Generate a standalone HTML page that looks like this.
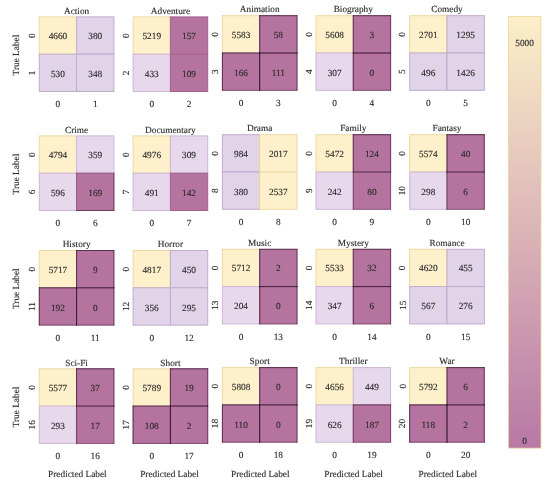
<!DOCTYPE html>
<html lang="en">
<head>
<meta charset="utf-8">
<title>Confusion matrices per genre</title>
<style>
html,body{margin:0;padding:0;background:#ffffff;}
body{width:550px;height:484px;overflow:hidden;}
svg{display:block;}
#labels{filter:blur(0.3px);}
svg text{font-family:"Liberation Serif","DejaVu Serif",serif;font-size:9.3px;fill:#2b2b2b;text-rendering:geometricPrecision;stroke:#2b2b2b;stroke-width:0.14px;}
</style>
</head>
<body>
<svg width="550" height="484" viewBox="0 0 550 484">
<defs>
<linearGradient id="cb" x1="0" y1="0" x2="0" y2="1">
<stop offset="0" stop-color="#FCEFC8"/>
<stop offset="1" stop-color="#B878A6"/>
</linearGradient>
</defs>
<rect x="0" y="0" width="550" height="484" fill="#ffffff"/>
<g id="cells">
<rect x="39.30" y="16.90" width="37.30" height="37.30" fill="#FDF0CB" stroke="#EBD9A3" stroke-width="1.0"/>
<rect x="76.60" y="16.90" width="37.30" height="37.30" fill="#E1D4E9" stroke="#C0AACD" stroke-width="1.0"/>
<rect x="39.30" y="54.20" width="37.30" height="37.30" fill="#E1D4E9" stroke="#C0AACD" stroke-width="1.0"/>
<rect x="76.60" y="54.20" width="37.30" height="37.30" fill="#E1D4E9" stroke="#C0AACD" stroke-width="1.0"/>
<rect x="133.10" y="16.90" width="37.30" height="37.30" fill="#FDF0CB" stroke="#EBD9A3" stroke-width="1.0"/>
<rect x="170.40" y="16.90" width="37.30" height="37.30" fill="#B5739F" stroke="#A5628F" stroke-width="1.0"/>
<rect x="133.10" y="54.20" width="37.30" height="37.30" fill="#E7D8EC" stroke="#CDB6D6" stroke-width="1.0"/>
<rect x="170.40" y="54.20" width="37.30" height="37.30" fill="#B5739F" stroke="#A5628F" stroke-width="1.0"/>
<rect x="222.40" y="15.70" width="37.30" height="37.30" fill="#FDF0CB" stroke="#EBD9A3" stroke-width="1.0"/>
<rect x="259.70" y="15.70" width="37.30" height="37.30" fill="#B5739F" stroke="#A5628F" stroke-width="1.0"/>
<rect x="222.40" y="53.00" width="37.30" height="37.30" fill="#B5739F" stroke="#A5628F" stroke-width="1.0"/>
<rect x="259.70" y="53.00" width="37.30" height="37.30" fill="#B5739F" stroke="#A5628F" stroke-width="1.0"/>
<g stroke="#160416" stroke-width="0.75" fill="none"><line x1="259.33" y1="15.70" x2="297.37" y2="15.70" stroke-opacity="0.72"/><line x1="259.70" y1="15.33" x2="259.70" y2="53.37" stroke-opacity="0.72"/><line x1="297.00" y1="15.33" x2="297.00" y2="53.37" stroke-opacity="0.58"/><line x1="259.33" y1="53.00" x2="297.37" y2="53.00" stroke-opacity="0.32"/><line x1="222.03" y1="53.00" x2="260.07" y2="53.00" stroke-opacity="0.72"/><line x1="222.40" y1="52.63" x2="222.40" y2="90.67" stroke-opacity="0.72"/><line x1="259.70" y1="52.63" x2="259.70" y2="90.67" stroke-opacity="0.58"/><line x1="222.03" y1="90.30" x2="260.07" y2="90.30" stroke-opacity="0.32"/><line x1="259.33" y1="53.00" x2="297.37" y2="53.00" stroke-opacity="0.72"/><line x1="259.70" y1="52.63" x2="259.70" y2="90.67" stroke-opacity="0.72"/><line x1="297.00" y1="52.63" x2="297.00" y2="90.67" stroke-opacity="0.58"/><line x1="259.33" y1="90.30" x2="297.37" y2="90.30" stroke-opacity="0.32"/></g>
<rect x="316.00" y="15.70" width="37.30" height="37.30" fill="#FDF0CB" stroke="#EBD9A3" stroke-width="1.0"/>
<rect x="316.00" y="53.00" width="37.30" height="37.30" fill="#E7D8EC" stroke="#CDB6D6" stroke-width="1.0"/>
<rect x="353.30" y="15.70" width="37.30" height="37.30" fill="#B5739F" stroke="#A5628F" stroke-width="1.0"/>
<rect x="353.30" y="53.00" width="37.30" height="37.30" fill="#B5739F" stroke="#A5628F" stroke-width="1.0"/>
<g stroke="#160416" stroke-width="0.75" fill="none"><line x1="352.93" y1="15.70" x2="390.97" y2="15.70" stroke-opacity="0.72"/><line x1="353.30" y1="15.33" x2="353.30" y2="53.37" stroke-opacity="0.72"/><line x1="390.60" y1="15.33" x2="390.60" y2="53.37" stroke-opacity="0.58"/><line x1="352.93" y1="53.00" x2="390.97" y2="53.00" stroke-opacity="0.32"/><line x1="352.93" y1="53.00" x2="390.97" y2="53.00" stroke-opacity="0.72"/><line x1="353.30" y1="52.63" x2="353.30" y2="90.67" stroke-opacity="0.72"/><line x1="390.60" y1="52.63" x2="390.60" y2="90.67" stroke-opacity="0.58"/><line x1="352.93" y1="90.30" x2="390.97" y2="90.30" stroke-opacity="0.32"/></g>
<rect x="409.70" y="15.70" width="37.30" height="37.30" fill="#FDF0CB" stroke="#EBD9A3" stroke-width="1.0"/>
<rect x="447.00" y="15.70" width="37.30" height="37.30" fill="#E1D4E9" stroke="#C0AACD" stroke-width="1.0"/>
<rect x="409.70" y="53.00" width="37.30" height="37.30" fill="#E1D4E9" stroke="#C0AACD" stroke-width="1.0"/>
<rect x="447.00" y="53.00" width="37.30" height="37.30" fill="#E1D4E9" stroke="#C0AACD" stroke-width="1.0"/>
<rect x="39.30" y="135.90" width="37.30" height="37.30" fill="#FDF0CB" stroke="#EBD9A3" stroke-width="1.0"/>
<rect x="76.60" y="135.90" width="37.30" height="37.30" fill="#E7D8EC" stroke="#CDB6D6" stroke-width="1.0"/>
<rect x="39.30" y="173.20" width="37.30" height="37.30" fill="#E7D8EC" stroke="#CDB6D6" stroke-width="1.0"/>
<rect x="76.60" y="173.20" width="37.30" height="37.30" fill="#B5739F" stroke="#A5628F" stroke-width="1.0"/>
<g stroke="#160416" stroke-width="0.75" fill="none"><line x1="76.23" y1="173.20" x2="114.27" y2="173.20" stroke-opacity="0.15"/><line x1="76.60" y1="172.83" x2="76.60" y2="210.87" stroke-opacity="0.15"/><line x1="113.90" y1="172.83" x2="113.90" y2="210.87" stroke-opacity="0.55"/><line x1="76.23" y1="210.50" x2="114.27" y2="210.50" stroke-opacity="0.55"/></g>
<rect x="133.10" y="135.90" width="37.30" height="37.30" fill="#FDF0CB" stroke="#EBD9A3" stroke-width="1.0"/>
<rect x="170.40" y="135.90" width="37.30" height="37.30" fill="#E7D8EC" stroke="#CDB6D6" stroke-width="1.0"/>
<rect x="133.10" y="173.20" width="37.30" height="37.30" fill="#E7D8EC" stroke="#CDB6D6" stroke-width="1.0"/>
<rect x="170.40" y="173.20" width="37.30" height="37.30" fill="#B5739F" stroke="#A5628F" stroke-width="1.0"/>
<rect x="222.40" y="134.70" width="37.30" height="37.30" fill="#E1D4E9" stroke="#C0AACD" stroke-width="1.0"/>
<rect x="259.70" y="134.70" width="37.30" height="37.30" fill="#FDF0CB" stroke="#EBD9A3" stroke-width="1.0"/>
<rect x="222.40" y="172.00" width="37.30" height="37.30" fill="#E1D4E9" stroke="#C0AACD" stroke-width="1.0"/>
<rect x="259.70" y="172.00" width="37.30" height="37.30" fill="#FDF0CB" stroke="#EBD9A3" stroke-width="1.0"/>
<rect x="316.00" y="134.70" width="37.30" height="37.30" fill="#FDF0CB" stroke="#EBD9A3" stroke-width="1.0"/>
<rect x="316.00" y="172.00" width="37.30" height="37.30" fill="#E7D8EC" stroke="#CDB6D6" stroke-width="1.0"/>
<rect x="353.30" y="134.70" width="37.30" height="37.30" fill="#B5739F" stroke="#A5628F" stroke-width="1.0"/>
<rect x="353.30" y="172.00" width="37.30" height="37.30" fill="#B5739F" stroke="#A5628F" stroke-width="1.0"/>
<g stroke="#160416" stroke-width="0.75" fill="none"><line x1="352.93" y1="134.70" x2="390.97" y2="134.70" stroke-opacity="0.72"/><line x1="353.30" y1="134.33" x2="353.30" y2="172.37" stroke-opacity="0.72"/><line x1="390.60" y1="134.33" x2="390.60" y2="172.37" stroke-opacity="0.58"/><line x1="352.93" y1="172.00" x2="390.97" y2="172.00" stroke-opacity="0.32"/><line x1="352.93" y1="172.00" x2="390.97" y2="172.00" stroke-opacity="0.40"/><line x1="353.30" y1="171.63" x2="353.30" y2="209.67" stroke-opacity="0.40"/><line x1="390.60" y1="171.63" x2="390.60" y2="209.67" stroke-opacity="0.32"/><line x1="352.93" y1="209.30" x2="390.97" y2="209.30" stroke-opacity="0.18"/></g>
<rect x="409.70" y="134.70" width="37.30" height="37.30" fill="#FDF0CB" stroke="#EBD9A3" stroke-width="1.0"/>
<rect x="409.70" y="172.00" width="37.30" height="37.30" fill="#E7D8EC" stroke="#CDB6D6" stroke-width="1.0"/>
<rect x="447.00" y="134.70" width="37.30" height="37.30" fill="#B5739F" stroke="#A5628F" stroke-width="1.0"/>
<rect x="447.00" y="172.00" width="37.30" height="37.30" fill="#B5739F" stroke="#A5628F" stroke-width="1.0"/>
<g stroke="#160416" stroke-width="0.75" fill="none"><line x1="446.63" y1="134.70" x2="484.67" y2="134.70" stroke-opacity="0.72"/><line x1="447.00" y1="134.33" x2="447.00" y2="172.37" stroke-opacity="0.72"/><line x1="484.30" y1="134.33" x2="484.30" y2="172.37" stroke-opacity="0.58"/><line x1="446.63" y1="172.00" x2="484.67" y2="172.00" stroke-opacity="0.32"/><line x1="446.63" y1="172.00" x2="484.67" y2="172.00" stroke-opacity="0.50"/><line x1="447.00" y1="171.63" x2="447.00" y2="209.67" stroke-opacity="0.50"/><line x1="484.30" y1="171.63" x2="484.30" y2="209.67" stroke-opacity="0.40"/><line x1="446.63" y1="209.30" x2="484.67" y2="209.30" stroke-opacity="0.23"/></g>
<rect x="39.30" y="250.50" width="37.30" height="37.30" fill="#FDF0CB" stroke="#EBD9A3" stroke-width="1.0"/>
<rect x="76.60" y="250.50" width="37.30" height="37.30" fill="#B5739F" stroke="#A5628F" stroke-width="1.0"/>
<rect x="39.30" y="287.80" width="37.30" height="37.30" fill="#B5739F" stroke="#A5628F" stroke-width="1.0"/>
<rect x="76.60" y="287.80" width="37.30" height="37.30" fill="#B5739F" stroke="#A5628F" stroke-width="1.0"/>
<g stroke="#160416" stroke-width="0.75" fill="none"><line x1="76.23" y1="250.50" x2="114.27" y2="250.50" stroke-opacity="0.72"/><line x1="76.60" y1="250.13" x2="76.60" y2="288.17" stroke-opacity="0.72"/><line x1="113.90" y1="250.13" x2="113.90" y2="288.17" stroke-opacity="0.58"/><line x1="76.23" y1="287.80" x2="114.27" y2="287.80" stroke-opacity="0.32"/><line x1="38.93" y1="287.80" x2="76.97" y2="287.80" stroke-opacity="0.72"/><line x1="39.30" y1="287.43" x2="39.30" y2="325.47" stroke-opacity="0.72"/><line x1="76.60" y1="287.43" x2="76.60" y2="325.47" stroke-opacity="0.58"/><line x1="38.93" y1="325.10" x2="76.97" y2="325.10" stroke-opacity="0.32"/><line x1="76.23" y1="287.80" x2="114.27" y2="287.80" stroke-opacity="0.72"/><line x1="76.60" y1="287.43" x2="76.60" y2="325.47" stroke-opacity="0.72"/><line x1="113.90" y1="287.43" x2="113.90" y2="325.47" stroke-opacity="0.58"/><line x1="76.23" y1="325.10" x2="114.27" y2="325.10" stroke-opacity="0.32"/></g>
<rect x="133.10" y="250.50" width="37.30" height="37.30" fill="#FDF0CB" stroke="#EBD9A3" stroke-width="1.0"/>
<rect x="170.40" y="250.50" width="37.30" height="37.30" fill="#E1D4E9" stroke="#C0AACD" stroke-width="1.0"/>
<rect x="133.10" y="287.80" width="37.30" height="37.30" fill="#E1D4E9" stroke="#C0AACD" stroke-width="1.0"/>
<rect x="170.40" y="287.80" width="37.30" height="37.30" fill="#E1D4E9" stroke="#C0AACD" stroke-width="1.0"/>
<rect x="222.40" y="249.30" width="37.30" height="37.30" fill="#FDF0CB" stroke="#EBD9A3" stroke-width="1.0"/>
<rect x="222.40" y="286.60" width="37.30" height="37.30" fill="#E7D8EC" stroke="#CDB6D6" stroke-width="1.0"/>
<rect x="259.70" y="249.30" width="37.30" height="37.30" fill="#B5739F" stroke="#A5628F" stroke-width="1.0"/>
<rect x="259.70" y="286.60" width="37.30" height="37.30" fill="#B5739F" stroke="#A5628F" stroke-width="1.0"/>
<g stroke="#160416" stroke-width="0.75" fill="none"><line x1="259.33" y1="249.30" x2="297.37" y2="249.30" stroke-opacity="0.72"/><line x1="259.70" y1="248.93" x2="259.70" y2="286.97" stroke-opacity="0.72"/><line x1="297.00" y1="248.93" x2="297.00" y2="286.97" stroke-opacity="0.58"/><line x1="259.33" y1="286.60" x2="297.37" y2="286.60" stroke-opacity="0.32"/><line x1="259.33" y1="286.60" x2="297.37" y2="286.60" stroke-opacity="0.72"/><line x1="259.70" y1="286.23" x2="259.70" y2="324.27" stroke-opacity="0.72"/><line x1="297.00" y1="286.23" x2="297.00" y2="324.27" stroke-opacity="0.58"/><line x1="259.33" y1="323.90" x2="297.37" y2="323.90" stroke-opacity="0.32"/></g>
<rect x="316.00" y="249.30" width="37.30" height="37.30" fill="#FDF0CB" stroke="#EBD9A3" stroke-width="1.0"/>
<rect x="316.00" y="286.60" width="37.30" height="37.30" fill="#E7D8EC" stroke="#CDB6D6" stroke-width="1.0"/>
<rect x="353.30" y="249.30" width="37.30" height="37.30" fill="#B5739F" stroke="#A5628F" stroke-width="1.0"/>
<rect x="353.30" y="286.60" width="37.30" height="37.30" fill="#B5739F" stroke="#A5628F" stroke-width="1.0"/>
<g stroke="#160416" stroke-width="0.75" fill="none"><line x1="352.93" y1="249.30" x2="390.97" y2="249.30" stroke-opacity="0.72"/><line x1="353.30" y1="248.93" x2="353.30" y2="286.97" stroke-opacity="0.72"/><line x1="390.60" y1="248.93" x2="390.60" y2="286.97" stroke-opacity="0.58"/><line x1="352.93" y1="286.60" x2="390.97" y2="286.60" stroke-opacity="0.32"/><line x1="352.93" y1="286.60" x2="390.97" y2="286.60" stroke-opacity="0.72"/><line x1="353.30" y1="286.23" x2="353.30" y2="324.27" stroke-opacity="0.72"/><line x1="390.60" y1="286.23" x2="390.60" y2="324.27" stroke-opacity="0.58"/><line x1="352.93" y1="323.90" x2="390.97" y2="323.90" stroke-opacity="0.32"/></g>
<rect x="409.70" y="249.30" width="37.30" height="37.30" fill="#FDF0CB" stroke="#EBD9A3" stroke-width="1.0"/>
<rect x="447.00" y="249.30" width="37.30" height="37.30" fill="#E1D4E9" stroke="#C0AACD" stroke-width="1.0"/>
<rect x="409.70" y="286.60" width="37.30" height="37.30" fill="#E1D4E9" stroke="#C0AACD" stroke-width="1.0"/>
<rect x="447.00" y="286.60" width="37.30" height="37.30" fill="#E1D4E9" stroke="#C0AACD" stroke-width="1.0"/>
<rect x="39.30" y="368.80" width="37.30" height="37.30" fill="#FDF0CB" stroke="#EBD9A3" stroke-width="1.0"/>
<rect x="39.30" y="406.10" width="37.30" height="37.30" fill="#E7D8EC" stroke="#CDB6D6" stroke-width="1.0"/>
<rect x="76.60" y="368.80" width="37.30" height="37.30" fill="#B5739F" stroke="#A5628F" stroke-width="1.0"/>
<rect x="76.60" y="406.10" width="37.30" height="37.30" fill="#B5739F" stroke="#A5628F" stroke-width="1.0"/>
<g stroke="#160416" stroke-width="0.75" fill="none"><line x1="76.23" y1="368.80" x2="114.27" y2="368.80" stroke-opacity="0.72"/><line x1="76.60" y1="368.43" x2="76.60" y2="406.47" stroke-opacity="0.72"/><line x1="113.90" y1="368.43" x2="113.90" y2="406.47" stroke-opacity="0.58"/><line x1="76.23" y1="406.10" x2="114.27" y2="406.10" stroke-opacity="0.32"/><line x1="76.23" y1="406.10" x2="114.27" y2="406.10" stroke-opacity="0.50"/><line x1="76.60" y1="405.73" x2="76.60" y2="443.77" stroke-opacity="0.50"/><line x1="113.90" y1="405.73" x2="113.90" y2="443.77" stroke-opacity="0.40"/><line x1="76.23" y1="443.40" x2="114.27" y2="443.40" stroke-opacity="0.23"/></g>
<rect x="133.10" y="368.80" width="37.30" height="37.30" fill="#FDF0CB" stroke="#EBD9A3" stroke-width="1.0"/>
<rect x="170.40" y="368.80" width="37.30" height="37.30" fill="#B5739F" stroke="#A5628F" stroke-width="1.0"/>
<rect x="133.10" y="406.10" width="37.30" height="37.30" fill="#B5739F" stroke="#A5628F" stroke-width="1.0"/>
<rect x="170.40" y="406.10" width="37.30" height="37.30" fill="#B5739F" stroke="#A5628F" stroke-width="1.0"/>
<g stroke="#160416" stroke-width="0.75" fill="none"><line x1="170.03" y1="368.80" x2="208.07" y2="368.80" stroke-opacity="0.72"/><line x1="170.40" y1="368.43" x2="170.40" y2="406.47" stroke-opacity="0.72"/><line x1="207.70" y1="368.43" x2="207.70" y2="406.47" stroke-opacity="0.58"/><line x1="170.03" y1="406.10" x2="208.07" y2="406.10" stroke-opacity="0.32"/><line x1="132.73" y1="406.10" x2="170.77" y2="406.10" stroke-opacity="0.72"/><line x1="133.10" y1="405.73" x2="133.10" y2="443.77" stroke-opacity="0.72"/><line x1="170.40" y1="405.73" x2="170.40" y2="443.77" stroke-opacity="0.58"/><line x1="132.73" y1="443.40" x2="170.77" y2="443.40" stroke-opacity="0.32"/><line x1="170.03" y1="406.10" x2="208.07" y2="406.10" stroke-opacity="0.72"/><line x1="170.40" y1="405.73" x2="170.40" y2="443.77" stroke-opacity="0.72"/><line x1="207.70" y1="405.73" x2="207.70" y2="443.77" stroke-opacity="0.58"/><line x1="170.03" y1="443.40" x2="208.07" y2="443.40" stroke-opacity="0.32"/></g>
<rect x="222.40" y="367.60" width="37.30" height="37.30" fill="#FDF0CB" stroke="#EBD9A3" stroke-width="1.0"/>
<rect x="259.70" y="367.60" width="37.30" height="37.30" fill="#B5739F" stroke="#A5628F" stroke-width="1.0"/>
<rect x="222.40" y="404.90" width="37.30" height="37.30" fill="#B5739F" stroke="#A5628F" stroke-width="1.0"/>
<rect x="259.70" y="404.90" width="37.30" height="37.30" fill="#B5739F" stroke="#A5628F" stroke-width="1.0"/>
<g stroke="#160416" stroke-width="0.75" fill="none"><line x1="259.33" y1="367.60" x2="297.37" y2="367.60" stroke-opacity="0.72"/><line x1="259.70" y1="367.23" x2="259.70" y2="405.27" stroke-opacity="0.72"/><line x1="297.00" y1="367.23" x2="297.00" y2="405.27" stroke-opacity="0.58"/><line x1="259.33" y1="404.90" x2="297.37" y2="404.90" stroke-opacity="0.32"/><line x1="222.03" y1="404.90" x2="260.07" y2="404.90" stroke-opacity="0.72"/><line x1="222.40" y1="404.53" x2="222.40" y2="442.57" stroke-opacity="0.72"/><line x1="259.70" y1="404.53" x2="259.70" y2="442.57" stroke-opacity="0.58"/><line x1="222.03" y1="442.20" x2="260.07" y2="442.20" stroke-opacity="0.32"/><line x1="259.33" y1="404.90" x2="297.37" y2="404.90" stroke-opacity="0.72"/><line x1="259.70" y1="404.53" x2="259.70" y2="442.57" stroke-opacity="0.72"/><line x1="297.00" y1="404.53" x2="297.00" y2="442.57" stroke-opacity="0.58"/><line x1="259.33" y1="442.20" x2="297.37" y2="442.20" stroke-opacity="0.32"/></g>
<rect x="316.00" y="367.60" width="37.30" height="37.30" fill="#FDF0CB" stroke="#EBD9A3" stroke-width="1.0"/>
<rect x="353.30" y="367.60" width="37.30" height="37.30" fill="#E7D8EC" stroke="#CDB6D6" stroke-width="1.0"/>
<rect x="316.00" y="404.90" width="37.30" height="37.30" fill="#E7D8EC" stroke="#CDB6D6" stroke-width="1.0"/>
<rect x="353.30" y="404.90" width="37.30" height="37.30" fill="#B5739F" stroke="#A5628F" stroke-width="1.0"/>
<g stroke="#160416" stroke-width="0.75" fill="none"><line x1="352.93" y1="404.90" x2="390.97" y2="404.90" stroke-opacity="0.55"/><line x1="353.30" y1="404.53" x2="353.30" y2="442.57" stroke-opacity="0.55"/><line x1="390.60" y1="404.53" x2="390.60" y2="442.57" stroke-opacity="0.44"/><line x1="352.93" y1="442.20" x2="390.97" y2="442.20" stroke-opacity="0.25"/></g>
<rect x="409.70" y="367.60" width="37.30" height="37.30" fill="#FDF0CB" stroke="#EBD9A3" stroke-width="1.0"/>
<rect x="447.00" y="367.60" width="37.30" height="37.30" fill="#B5739F" stroke="#A5628F" stroke-width="1.0"/>
<rect x="409.70" y="404.90" width="37.30" height="37.30" fill="#B5739F" stroke="#A5628F" stroke-width="1.0"/>
<rect x="447.00" y="404.90" width="37.30" height="37.30" fill="#B5739F" stroke="#A5628F" stroke-width="1.0"/>
<g stroke="#160416" stroke-width="0.75" fill="none"><line x1="446.63" y1="367.60" x2="484.67" y2="367.60" stroke-opacity="0.72"/><line x1="447.00" y1="367.23" x2="447.00" y2="405.27" stroke-opacity="0.72"/><line x1="484.30" y1="367.23" x2="484.30" y2="405.27" stroke-opacity="0.58"/><line x1="446.63" y1="404.90" x2="484.67" y2="404.90" stroke-opacity="0.32"/><line x1="409.33" y1="404.90" x2="447.37" y2="404.90" stroke-opacity="0.72"/><line x1="409.70" y1="404.53" x2="409.70" y2="442.57" stroke-opacity="0.72"/><line x1="447.00" y1="404.53" x2="447.00" y2="442.57" stroke-opacity="0.58"/><line x1="409.33" y1="442.20" x2="447.37" y2="442.20" stroke-opacity="0.32"/><line x1="446.63" y1="404.90" x2="484.67" y2="404.90" stroke-opacity="0.72"/><line x1="447.00" y1="404.53" x2="447.00" y2="442.57" stroke-opacity="0.72"/><line x1="484.30" y1="404.53" x2="484.30" y2="442.57" stroke-opacity="0.58"/><line x1="446.63" y1="442.20" x2="484.67" y2="442.20" stroke-opacity="0.32"/></g>
<rect x="508.4" y="16.5" width="32.6" height="431.6" fill="url(#cb)" stroke="#EBD79C" stroke-width="0.8"/>
</g>
<g id="labels">
<text x="57.95" y="39.00" text-anchor="middle">4660</text>
<text x="95.25" y="39.00" text-anchor="middle">380</text>
<text x="57.95" y="77.00" text-anchor="middle">530</text>
<text x="95.25" y="77.00" text-anchor="middle">348</text>
<text x="76.60" y="13.60" text-anchor="middle">Action</text>
<text x="57.95" y="107.15" text-anchor="middle">0</text>
<text x="95.25" y="107.15" text-anchor="middle">1</text>
<text x="35.10" y="35.55" text-anchor="middle" transform="rotate(-90 35.10 35.55)">0</text>
<text x="35.10" y="72.85" text-anchor="middle" transform="rotate(-90 35.10 72.85)">1</text>
<text x="18.70" y="55.10" text-anchor="middle" transform="rotate(-90 18.70 55.10)">True Label</text>
<text x="151.75" y="39.00" text-anchor="middle">5219</text>
<text x="189.05" y="39.00" text-anchor="middle">157</text>
<text x="151.75" y="77.00" text-anchor="middle">433</text>
<text x="189.05" y="77.00" text-anchor="middle">109</text>
<text x="170.40" y="13.60" text-anchor="middle">Adventure</text>
<text x="151.75" y="107.15" text-anchor="middle">0</text>
<text x="189.05" y="107.15" text-anchor="middle">2</text>
<text x="128.90" y="35.55" text-anchor="middle" transform="rotate(-90 128.90 35.55)">0</text>
<text x="128.90" y="72.85" text-anchor="middle" transform="rotate(-90 128.90 72.85)">2</text>
<text x="241.05" y="37.80" text-anchor="middle">5583</text>
<text x="278.35" y="37.80" text-anchor="middle">58</text>
<text x="241.05" y="75.80" text-anchor="middle">166</text>
<text x="278.35" y="75.80" text-anchor="middle">111</text>
<text x="259.70" y="12.40" text-anchor="middle">Animation</text>
<text x="241.05" y="105.95" text-anchor="middle">0</text>
<text x="278.35" y="105.95" text-anchor="middle">3</text>
<text x="218.20" y="34.35" text-anchor="middle" transform="rotate(-90 218.20 34.35)">0</text>
<text x="218.20" y="71.65" text-anchor="middle" transform="rotate(-90 218.20 71.65)">3</text>
<text x="334.65" y="37.80" text-anchor="middle">5608</text>
<text x="371.95" y="37.80" text-anchor="middle">3</text>
<text x="334.65" y="75.80" text-anchor="middle">307</text>
<text x="371.95" y="75.80" text-anchor="middle">0</text>
<text x="353.30" y="12.40" text-anchor="middle">Biography</text>
<text x="334.65" y="105.95" text-anchor="middle">0</text>
<text x="371.95" y="105.95" text-anchor="middle">4</text>
<text x="311.80" y="34.35" text-anchor="middle" transform="rotate(-90 311.80 34.35)">0</text>
<text x="311.80" y="71.65" text-anchor="middle" transform="rotate(-90 311.80 71.65)">4</text>
<text x="428.35" y="37.80" text-anchor="middle">2701</text>
<text x="465.65" y="37.80" text-anchor="middle">1295</text>
<text x="428.35" y="75.80" text-anchor="middle">496</text>
<text x="465.65" y="75.80" text-anchor="middle">1426</text>
<text x="447.00" y="12.40" text-anchor="middle">Comedy</text>
<text x="428.35" y="105.95" text-anchor="middle">0</text>
<text x="465.65" y="105.95" text-anchor="middle">5</text>
<text x="405.50" y="34.35" text-anchor="middle" transform="rotate(-90 405.50 34.35)">0</text>
<text x="405.50" y="71.65" text-anchor="middle" transform="rotate(-90 405.50 71.65)">5</text>
<text x="57.95" y="158.00" text-anchor="middle">4794</text>
<text x="95.25" y="158.00" text-anchor="middle">359</text>
<text x="57.95" y="196.00" text-anchor="middle">596</text>
<text x="95.25" y="196.00" text-anchor="middle">169</text>
<text x="76.60" y="132.60" text-anchor="middle">Crime</text>
<text x="57.95" y="226.15" text-anchor="middle">0</text>
<text x="95.25" y="226.15" text-anchor="middle">6</text>
<text x="35.10" y="154.55" text-anchor="middle" transform="rotate(-90 35.10 154.55)">0</text>
<text x="35.10" y="191.85" text-anchor="middle" transform="rotate(-90 35.10 191.85)">6</text>
<text x="18.70" y="174.10" text-anchor="middle" transform="rotate(-90 18.70 174.10)">True Label</text>
<text x="151.75" y="158.00" text-anchor="middle">4976</text>
<text x="189.05" y="158.00" text-anchor="middle">309</text>
<text x="151.75" y="196.00" text-anchor="middle">491</text>
<text x="189.05" y="196.00" text-anchor="middle">142</text>
<text x="170.40" y="132.60" text-anchor="middle">Documentary</text>
<text x="151.75" y="226.15" text-anchor="middle">0</text>
<text x="189.05" y="226.15" text-anchor="middle">7</text>
<text x="128.90" y="154.55" text-anchor="middle" transform="rotate(-90 128.90 154.55)">0</text>
<text x="128.90" y="191.85" text-anchor="middle" transform="rotate(-90 128.90 191.85)">7</text>
<text x="241.05" y="156.80" text-anchor="middle">984</text>
<text x="278.35" y="156.80" text-anchor="middle">2017</text>
<text x="241.05" y="194.80" text-anchor="middle">380</text>
<text x="278.35" y="194.80" text-anchor="middle">2537</text>
<text x="259.70" y="131.40" text-anchor="middle">Drama</text>
<text x="241.05" y="224.95" text-anchor="middle">0</text>
<text x="278.35" y="224.95" text-anchor="middle">8</text>
<text x="218.20" y="153.35" text-anchor="middle" transform="rotate(-90 218.20 153.35)">0</text>
<text x="218.20" y="190.65" text-anchor="middle" transform="rotate(-90 218.20 190.65)">8</text>
<text x="334.65" y="156.80" text-anchor="middle">5472</text>
<text x="371.95" y="156.80" text-anchor="middle">124</text>
<text x="334.65" y="194.80" text-anchor="middle">242</text>
<text x="371.95" y="194.80" text-anchor="middle">80</text>
<text x="353.30" y="131.40" text-anchor="middle">Family</text>
<text x="334.65" y="224.95" text-anchor="middle">0</text>
<text x="371.95" y="224.95" text-anchor="middle">9</text>
<text x="311.80" y="153.35" text-anchor="middle" transform="rotate(-90 311.80 153.35)">0</text>
<text x="311.80" y="190.65" text-anchor="middle" transform="rotate(-90 311.80 190.65)">9</text>
<text x="428.35" y="156.80" text-anchor="middle">5574</text>
<text x="465.65" y="156.80" text-anchor="middle">40</text>
<text x="428.35" y="194.80" text-anchor="middle">298</text>
<text x="465.65" y="194.80" text-anchor="middle">6</text>
<text x="447.00" y="131.40" text-anchor="middle">Fantasy</text>
<text x="428.35" y="224.95" text-anchor="middle">0</text>
<text x="465.65" y="224.95" text-anchor="middle">10</text>
<text x="405.50" y="153.35" text-anchor="middle" transform="rotate(-90 405.50 153.35)">0</text>
<text x="405.50" y="190.65" text-anchor="middle" transform="rotate(-90 405.50 190.65)">10</text>
<text x="57.95" y="272.60" text-anchor="middle">5717</text>
<text x="95.25" y="272.60" text-anchor="middle">9</text>
<text x="57.95" y="310.60" text-anchor="middle">192</text>
<text x="95.25" y="310.60" text-anchor="middle">0</text>
<text x="76.60" y="247.20" text-anchor="middle">History</text>
<text x="57.95" y="340.75" text-anchor="middle">0</text>
<text x="95.25" y="340.75" text-anchor="middle">11</text>
<text x="35.10" y="269.15" text-anchor="middle" transform="rotate(-90 35.10 269.15)">0</text>
<text x="35.10" y="306.45" text-anchor="middle" transform="rotate(-90 35.10 306.45)">11</text>
<text x="18.70" y="288.70" text-anchor="middle" transform="rotate(-90 18.70 288.70)">True Label</text>
<text x="151.75" y="272.60" text-anchor="middle">4817</text>
<text x="189.05" y="272.60" text-anchor="middle">450</text>
<text x="151.75" y="310.60" text-anchor="middle">356</text>
<text x="189.05" y="310.60" text-anchor="middle">295</text>
<text x="170.40" y="247.20" text-anchor="middle">Horror</text>
<text x="151.75" y="340.75" text-anchor="middle">0</text>
<text x="189.05" y="340.75" text-anchor="middle">12</text>
<text x="128.90" y="269.15" text-anchor="middle" transform="rotate(-90 128.90 269.15)">0</text>
<text x="128.90" y="306.45" text-anchor="middle" transform="rotate(-90 128.90 306.45)">12</text>
<text x="241.05" y="271.40" text-anchor="middle">5712</text>
<text x="278.35" y="271.40" text-anchor="middle">2</text>
<text x="241.05" y="309.40" text-anchor="middle">204</text>
<text x="278.35" y="309.40" text-anchor="middle">0</text>
<text x="259.70" y="246.00" text-anchor="middle">Music</text>
<text x="241.05" y="339.55" text-anchor="middle">0</text>
<text x="278.35" y="339.55" text-anchor="middle">13</text>
<text x="218.20" y="267.95" text-anchor="middle" transform="rotate(-90 218.20 267.95)">0</text>
<text x="218.20" y="305.25" text-anchor="middle" transform="rotate(-90 218.20 305.25)">13</text>
<text x="334.65" y="271.40" text-anchor="middle">5533</text>
<text x="371.95" y="271.40" text-anchor="middle">32</text>
<text x="334.65" y="309.40" text-anchor="middle">347</text>
<text x="371.95" y="309.40" text-anchor="middle">6</text>
<text x="353.30" y="246.00" text-anchor="middle">Mystery</text>
<text x="334.65" y="339.55" text-anchor="middle">0</text>
<text x="371.95" y="339.55" text-anchor="middle">14</text>
<text x="311.80" y="267.95" text-anchor="middle" transform="rotate(-90 311.80 267.95)">0</text>
<text x="311.80" y="305.25" text-anchor="middle" transform="rotate(-90 311.80 305.25)">14</text>
<text x="428.35" y="271.40" text-anchor="middle">4620</text>
<text x="465.65" y="271.40" text-anchor="middle">455</text>
<text x="428.35" y="309.40" text-anchor="middle">567</text>
<text x="465.65" y="309.40" text-anchor="middle">276</text>
<text x="447.00" y="246.00" text-anchor="middle">Romance</text>
<text x="428.35" y="339.55" text-anchor="middle">0</text>
<text x="465.65" y="339.55" text-anchor="middle">15</text>
<text x="405.50" y="267.95" text-anchor="middle" transform="rotate(-90 405.50 267.95)">0</text>
<text x="405.50" y="305.25" text-anchor="middle" transform="rotate(-90 405.50 305.25)">15</text>
<text x="57.95" y="390.90" text-anchor="middle">5577</text>
<text x="95.25" y="390.90" text-anchor="middle">37</text>
<text x="57.95" y="428.90" text-anchor="middle">293</text>
<text x="95.25" y="428.90" text-anchor="middle">17</text>
<text x="76.60" y="365.50" text-anchor="middle">Sci-Fi</text>
<text x="57.95" y="459.05" text-anchor="middle">0</text>
<text x="95.25" y="459.05" text-anchor="middle">16</text>
<text x="35.10" y="387.45" text-anchor="middle" transform="rotate(-90 35.10 387.45)">0</text>
<text x="35.10" y="424.75" text-anchor="middle" transform="rotate(-90 35.10 424.75)">16</text>
<text x="18.70" y="407.00" text-anchor="middle" transform="rotate(-90 18.70 407.00)">True Label</text>
<text x="77.40" y="477.40" text-anchor="middle">Predicted Label</text>
<text x="151.75" y="390.90" text-anchor="middle">5789</text>
<text x="189.05" y="390.90" text-anchor="middle">19</text>
<text x="151.75" y="428.90" text-anchor="middle">108</text>
<text x="189.05" y="428.90" text-anchor="middle">2</text>
<text x="170.40" y="365.50" text-anchor="middle">Short</text>
<text x="151.75" y="459.05" text-anchor="middle">0</text>
<text x="189.05" y="459.05" text-anchor="middle">17</text>
<text x="128.90" y="387.45" text-anchor="middle" transform="rotate(-90 128.90 387.45)">0</text>
<text x="128.90" y="424.75" text-anchor="middle" transform="rotate(-90 128.90 424.75)">17</text>
<text x="169.50" y="477.40" text-anchor="middle">Predicted Label</text>
<text x="241.05" y="389.70" text-anchor="middle">5808</text>
<text x="278.35" y="389.70" text-anchor="middle">0</text>
<text x="241.05" y="427.70" text-anchor="middle">110</text>
<text x="278.35" y="427.70" text-anchor="middle">0</text>
<text x="259.70" y="364.30" text-anchor="middle">Sport</text>
<text x="241.05" y="457.85" text-anchor="middle">0</text>
<text x="278.35" y="457.85" text-anchor="middle">18</text>
<text x="218.20" y="386.25" text-anchor="middle" transform="rotate(-90 218.20 386.25)">0</text>
<text x="218.20" y="423.55" text-anchor="middle" transform="rotate(-90 218.20 423.55)">18</text>
<text x="260.30" y="477.40" text-anchor="middle">Predicted Label</text>
<text x="334.65" y="389.70" text-anchor="middle">4656</text>
<text x="371.95" y="389.70" text-anchor="middle">449</text>
<text x="334.65" y="427.70" text-anchor="middle">626</text>
<text x="371.95" y="427.70" text-anchor="middle">187</text>
<text x="353.30" y="364.30" text-anchor="middle">Thriller</text>
<text x="334.65" y="457.85" text-anchor="middle">0</text>
<text x="371.95" y="457.85" text-anchor="middle">19</text>
<text x="311.80" y="386.25" text-anchor="middle" transform="rotate(-90 311.80 386.25)">0</text>
<text x="311.80" y="423.55" text-anchor="middle" transform="rotate(-90 311.80 423.55)">19</text>
<text x="353.60" y="477.40" text-anchor="middle">Predicted Label</text>
<text x="428.35" y="389.70" text-anchor="middle">5792</text>
<text x="465.65" y="389.70" text-anchor="middle">6</text>
<text x="428.35" y="427.70" text-anchor="middle">118</text>
<text x="465.65" y="427.70" text-anchor="middle">2</text>
<text x="447.00" y="364.30" text-anchor="middle">War</text>
<text x="428.35" y="457.85" text-anchor="middle">0</text>
<text x="465.65" y="457.85" text-anchor="middle">20</text>
<text x="405.50" y="386.25" text-anchor="middle" transform="rotate(-90 405.50 386.25)">0</text>
<text x="405.50" y="423.55" text-anchor="middle" transform="rotate(-90 405.50 423.55)">20</text>
<text x="447.90" y="477.40" text-anchor="middle">Predicted Label</text>
<text x="524.60" y="45.95" text-anchor="middle">5000</text>
<text x="524.50" y="444.15" text-anchor="middle">0</text>
</g>
</svg>
</body>
</html>
